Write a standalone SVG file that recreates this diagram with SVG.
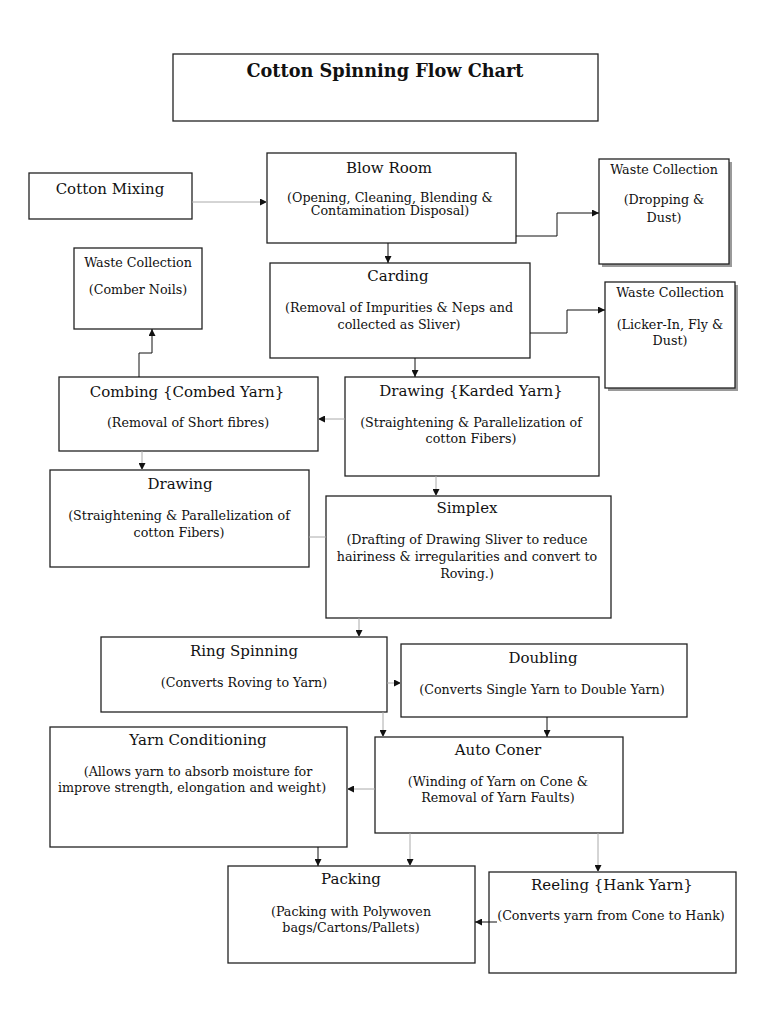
<svg xmlns="http://www.w3.org/2000/svg" width="768" height="1024" viewBox="0 0 768 1024">
<defs>
<style>
.box{fill:#fff;stroke:#222;stroke-width:1.3}
.shadow{fill:#9a9a9a}
.t{font-family:"DejaVu Serif","Liberation Serif",serif;font-size:15px;fill:#111;text-anchor:middle}
.s{font-family:"DejaVu Serif","Liberation Serif",serif;font-size:12.7px;fill:#111;text-anchor:middle}
.title{font-family:"DejaVu Serif","Liberation Serif",serif;font-size:17.7px;font-weight:bold;fill:#111;text-anchor:middle}
.c{fill:none;stroke:#111;stroke-width:1}
.g{fill:none;stroke:#aaa;stroke-width:1}
</style>
<marker id="ah" viewBox="0 0 8 8" refX="8" refY="4" markerWidth="7" markerHeight="7" markerUnits="userSpaceOnUse" orient="auto">
<path d="M0,0 L8,4 L0,8 z" fill="#111"/>
</marker>
</defs>
<rect width="768" height="1024" fill="#fff"/>

<g id="title">
<rect class="box" x="173" y="54" width="425" height="67"/>
<text class="title" x="385" y="77">Cotton Spinning Flow Chart</text>
</g>

<g id="cotton-mixing">
<rect class="box" x="29" y="173" width="163" height="46"/>
<text class="t" x="110" y="194">Cotton Mixing</text>
</g>

<g id="blow-room">
<rect class="box" x="267" y="153" width="249" height="90"/>
<text class="t" x="389" y="173">Blow Room</text>
<text class="s" x="390" y="202">(Opening, Cleaning, Blending &amp;</text>
<text class="s" x="390" y="215">Contamination Disposal)</text>
</g>

<g id="waste-dropping">
<rect class="shadow" x="602" y="162" width="130" height="105"/>
<rect class="box" x="599" y="159" width="130" height="105"/>
<text class="s" x="664" y="174">Waste Collection</text>
<text class="s" x="664" y="204">(Dropping &amp;</text>
<text class="s" x="664" y="222">Dust)</text>
</g>

<g id="carding">
<rect class="box" x="270" y="263" width="260" height="95"/>
<text class="t" x="398" y="281">Carding</text>
<text class="s" x="399" y="312">(Removal of Impurities &amp; Neps and</text>
<text class="s" x="399" y="329">collected as Sliver)</text>
</g>

<g id="waste-comber">
<rect class="box" x="74" y="248" width="128" height="81"/>
<text class="s" x="138" y="267">Waste Collection</text>
<text class="s" x="138" y="294">(Comber Noils)</text>
</g>

<g id="waste-licker">
<rect class="shadow" x="608" y="285" width="130" height="106"/>
<rect class="box" x="605" y="282" width="130" height="106"/>
<text class="s" x="670" y="297">Waste Collection</text>
<text class="s" x="670" y="329">(Licker-In, Fly &amp;</text>
<text class="s" x="670" y="345">Dust)</text>
</g>

<g id="combing">
<rect class="box" x="59" y="377" width="259" height="74"/>
<text class="t" x="187" y="397">Combing {Combed Yarn}</text>
<text class="s" x="188" y="427">(Removal of Short fibres)</text>
</g>

<g id="drawing-karded">
<rect class="box" x="345" y="377" width="254" height="99"/>
<text class="t" x="471" y="396">Drawing {Karded Yarn}</text>
<text class="s" x="471" y="427">(Straightening &amp; Parallelization of</text>
<text class="s" x="471" y="443">cotton Fibers)</text>
</g>

<g id="drawing">
<rect class="box" x="50" y="470" width="259" height="97"/>
<text class="t" x="180" y="489">Drawing</text>
<text class="s" x="179" y="520">(Straightening &amp; Parallelization of</text>
<text class="s" x="179" y="537">cotton Fibers)</text>
</g>

<g id="simplex">
<rect class="box" x="326" y="496" width="285" height="122"/>
<text class="t" x="467" y="513">Simplex</text>
<text class="s" x="467" y="544">(Drafting of Drawing Sliver to reduce</text>
<text class="s" x="467" y="561">hairiness &amp; irregularities and convert to</text>
<text class="s" x="467" y="578">Roving.)</text>
</g>

<g id="ring-spinning">
<rect class="box" x="101" y="637" width="286" height="75"/>
<text class="t" x="244" y="656">Ring Spinning</text>
<text class="s" x="244" y="687">(Converts Roving to Yarn)</text>
</g>

<g id="doubling">
<rect class="box" x="401" y="644" width="286" height="73"/>
<text class="t" x="543" y="663">Doubling</text>
<text class="s" x="542" y="694">(Converts Single Yarn to Double Yarn)</text>
</g>

<g id="yarn-conditioning">
<rect class="box" x="50" y="727" width="297" height="120"/>
<text class="t" x="198" y="745">Yarn Conditioning</text>
<text class="s" x="198" y="776">(Allows yarn to absorb moisture for</text>
<text class="s" x="192" y="792">improve strength, elongation and weight)</text>
</g>

<g id="auto-coner">
<rect class="box" x="375" y="737" width="248" height="96"/>
<text class="t" x="498" y="755">Auto Coner</text>
<text class="s" x="498" y="786">(Winding of Yarn on Cone &amp;</text>
<text class="s" x="498" y="802">Removal of Yarn Faults)</text>
</g>

<g id="packing">
<rect class="box" x="228" y="866" width="247" height="97"/>
<text class="t" x="351" y="884">Packing</text>
<text class="s" x="351" y="916">(Packing with Polywoven</text>
<text class="s" x="351" y="932">bags/Cartons/Pallets)</text>
</g>

<g id="reeling">
<rect class="box" x="489" y="872" width="247" height="101"/>
<text class="t" x="612" y="890">Reeling {Hank Yarn}</text>
<text class="s" x="611" y="920">(Converts yarn from Cone to Hank)</text>
</g>

<g id="connectors">
<path class="g" d="M192,202 H267" marker-end="url(#ah)"/>
<path class="c" d="M516,236 H557 V213 H599" marker-end="url(#ah)"/>
<path class="c" d="M388,243 V263" marker-end="url(#ah)"/>
<path class="c" d="M530,333 H567 V310 H605" marker-end="url(#ah)"/>
<path class="c" d="M415,358 V377" marker-end="url(#ah)"/>
<path class="g" d="M345,419 H318" marker-end="url(#ah)"/>
<path class="c" d="M139,377 V353 H152 V329" marker-end="url(#ah)"/>
<path class="g" d="M142,451 V470" marker-end="url(#ah)"/>
<path class="g" d="M436,476 V496" marker-end="url(#ah)"/>
<path class="g" d="M309,537 H326"/>
<path class="g" d="M359,618 V637" marker-end="url(#ah)"/>
<path class="g" d="M387,683 H401" marker-end="url(#ah)"/>
<path class="g" d="M383,712 V737" marker-end="url(#ah)"/>
<path class="c" d="M547,717 V737" marker-end="url(#ah)"/>
<path class="g" d="M375,789 H347" marker-end="url(#ah)"/>
<path class="c" d="M318,847 V866" marker-end="url(#ah)"/>
<path class="g" d="M410,833 V866" marker-end="url(#ah)"/>
<path class="g" d="M598,833 V872" marker-end="url(#ah)"/>
<path class="c" d="M497,922 H475" marker-end="url(#ah)"/>
</g>
</svg>
